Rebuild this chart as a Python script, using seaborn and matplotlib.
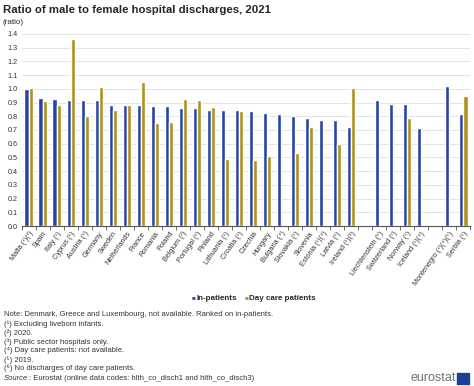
import numpy as np
import pandas as pd
import matplotlib.pyplot as plt
import seaborn as sns
from matplotlib.patches import Rectangle

sns.set_style("white")
plt.rcParams['font.family'] = ['Liberation Sans', 'DejaVu Sans']

# ---- data ----
countries = ["Malta (¹)(²)", "Spain", "Italy (¹)", "Cyprus (¹)", "Austria (¹)", "Germany",
             "Sweden", "Netherlands", "France", "Romania", "Poland", "Belgium (²)",
             "Portugal (¹)", "Finland", "Lithuania (¹)", "Croatia (¹)", "Czechia", "Hungary",
             "Bulgaria (⁴)", "Slovakia (¹)", "Slovenia", "Estonia (¹)(⁴)", "Latvia (¹)",
             "Ireland (¹)(³)", " ", "Liechtenstein (⁶)", "Switzerland (¹)", "Norway (¹)",
             "Iceland (¹)(⁴)", "  ", "Montenegro (¹)(⁴)(⁵)", "Serbia (¹)"]

in_patients = [1.00, 0.935, 0.925, 0.92, 0.915, 0.915, 0.885, 0.885, 0.88, 0.875,
               0.872, 0.862, 0.858, 0.849, 0.844, 0.843, 0.837, 0.824, 0.817, 0.802,
               0.790, 0.776, 0.771, 0.724, np.nan, 0.917, 0.890, 0.888, 0.712, np.nan,
               1.022, 0.817]

day_care = [1.005, 0.91, 0.885, 1.36, 0.80, 1.015, 0.845, 0.88, 1.05, 0.752,
            0.756, 0.927, 0.922, 0.866, 0.488, 0.839, 0.478, 0.510, np.nan, 0.529,
            0.722, np.nan, 0.600, 1.005, np.nan, np.nan, np.nan, 0.788, np.nan, np.nan,
            np.nan, 0.946]

series = ["In-patients", "Day care patients"]
colors = ["#2644A7", "#B09120"]

df = pd.DataFrame({"country": countries * 2,
                   "series": [series[0]] * len(countries) + [series[1]] * len(countries),
                   "value": in_patients + day_care})

# ---- figure ----
fig = plt.figure(figsize=(4.74, 3.86), dpi=100)
ax = fig.add_axes([0.046, 0.4145, 0.946, 0.4975])

sns.barplot(data=df, x="country", y="value", hue="series", order=countries,
            hue_order=series, palette=colors, width=0.66, gap=0.12,
            saturation=1, ax=ax, legend=False)

ax.set_ylim(0, 1.4)
ax.set_yticks(np.arange(0, 1.41, 0.1))
ax.set_yticklabels([f"{v:.1f}" for v in np.arange(0, 1.41, 0.1)], fontsize=5.2,
                   color="#333333")
ax.yaxis.grid(True, color="#E3E3E3", linewidth=0.7)
ax.set_axisbelow(True)
ax.set_xlim(-0.5, len(countries) - 0.5)
ax.set_xlabel("")
ax.set_ylabel("")

ax.set_xticks(range(len(countries)))
ax.set_xticklabels(countries, rotation=55, ha="right", rotation_mode="anchor", fontsize=5.2,
                   color="#333333")
ax.set_xticks(np.arange(-0.5, len(countries), 1), minor=True)
ax.tick_params(axis="x", which="major", length=0, pad=3)
ax.tick_params(axis="x", which="minor", length=3, color="#555555", width=0.6, bottom=True)
ax.tick_params(axis="y", length=0, pad=3)

for s in ["top", "right", "left"]:
    ax.spines[s].set_visible(False)
ax.spines["bottom"].set_color("#555555")
ax.spines["bottom"].set_linewidth(0.8)

# ---- texts ----
fig.text(0.006, 0.975, "Ratio of male to female hospital discharges, 2021",
         fontsize=8.2, fontweight="bold", va="center")
fig.text(0.006, 0.942, "(ratio)", fontsize=5.8, va="center")

ly = 1 - 298 / 386
fig.text(0.412, ly, "■", color=colors[0], fontsize=4.5, ha="right", va="center")
fig.text(0.414, ly, "In-patients", fontsize=5.8, fontweight="bold", va="center")
fig.text(0.523, ly, "■", color=colors[1], fontsize=4.5, ha="right", va="center")
fig.text(0.525, ly, "Day care patients", fontsize=5.8, fontweight="bold", va="center")

notes = ["Note: Denmark, Greece and Luxembourg, not available. Ranked on in-patients.",
         "(¹) Excluding liveborn infants.",
         "(²) 2020.",
         "(³) Public sector hospitals only.",
         "(⁴) Day care patients: not available.",
         "(⁵) 2019.",
         "(⁶) No discharges of day care patients."]
ys = [314, 324, 333, 342, 351, 360, 368]
for t, yy in zip(notes, ys):
    fig.text(0.008, 1 - yy / 386, t, fontsize=5.5, va="center", color="#333333")
fig.text(0.008, 1 - 379 / 386, "Source", fontsize=5.5, va="center",
         style="italic", color="#333333")
fig.text(0.061, 1 - 379 / 386, ": Eurostat (online data codes: hlth_co_disch1 and hlth_co_disch3)",
         fontsize=5.5, va="center", color="#333333")

fig.text(0.962, 1 - 378 / 386, "eurostat", fontsize=9, color="#707070",
         ha="right", va="center")
fig.patches.append(Rectangle((0.964, 1 - 384 / 386), 0.026, 0.029,
                             transform=fig.transFigure, color="#1F3D99"))

fig.savefig("out.png", dpi=100)
